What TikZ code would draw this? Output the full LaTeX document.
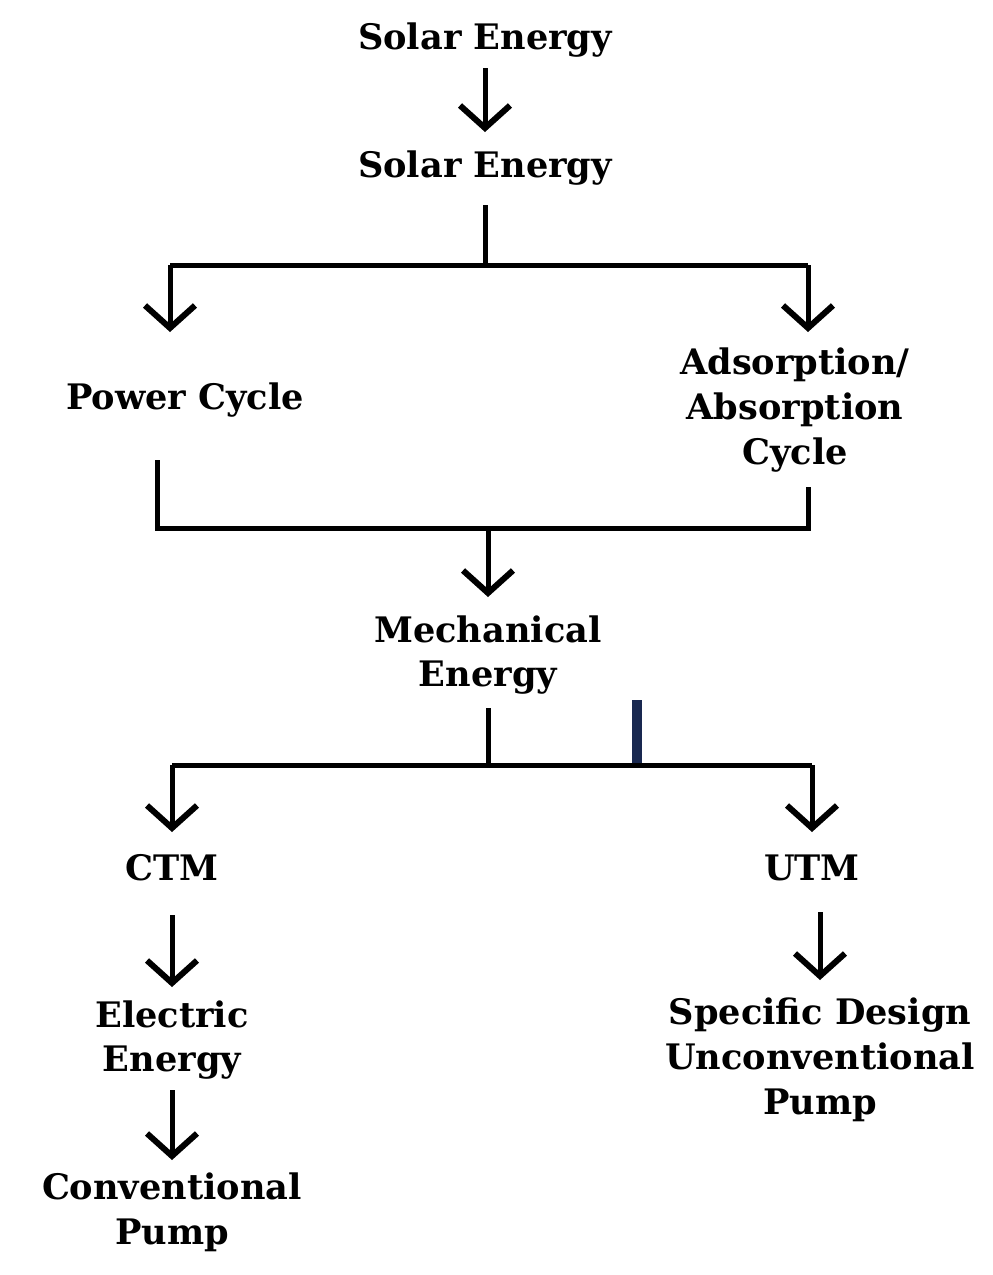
\documentclass[tikz,border=0pt]{standalone}
\usepackage{fontspec}
\setmainfont{DejaVu Serif}
\usetikzlibrary{arrows.meta}
\begin{document}
\begin{tikzpicture}[x=0.02cm,y=-0.02cm,
  lbl/.style={font=\fontsize{20}{25.5}\selectfont\bfseries,align=center,inner sep=0pt},
  ln/.style={line width=0.1cm},
  arr/.style={ln,-{Straight Barb[length=0.45cm,width=1.0cm,line width=0.12cm]}}]
\useasboundingbox (0,0) rectangle (993,1275);
\clip (0,0) rectangle (993,1275);
\node[lbl] (s1) at (485,40) {Solar Energy};
\node[lbl] (s2) at (485,168) {Solar Energy};
\node[lbl] (pc) at (185,400) {Power Cycle};
\node[lbl] (ac) at (795,410) {Adsorption/\\Absorption\\Cycle};
\node[lbl] (me) at (488,655) {Mechanical\\Energy};
\node[lbl] (ctm) at (172,868) {CTM};
\node[lbl] (utm) at (812,868) {UTM};
\node[lbl] (ee) at (172,1040) {Electric\\Energy};
\node[lbl] (cp) at (172,1212) {Conventional\\Pump};
\node[lbl] (sd) at (820,1060) {Specific Design\\Unconventional\\Pump};
\coordinate (a1) at (485,68); \coordinate (a2) at (485,132);
\draw[arr] (a1) -- (a2);
\coordinate (b0) at (485,205); \coordinate (b1) at (485,265);
\coordinate (bl) at (170,265); \coordinate (br) at (808,265);
\coordinate (blx) at (170,332); \coordinate (brx) at (808,332);
\draw[ln] (b0) -- (b1);
\draw[ln] (bl) -- (br);
\draw[arr] (bl) -- (blx);
\draw[arr] (br) -- (brx);
\coordinate (c1) at (157,460); \coordinate (c2) at (157,528);
\coordinate (c3) at (808,487); \coordinate (c4) at (808,528);
\coordinate (c5) at (488,528); \coordinate (c6) at (488,597);
\draw[ln] (c1) -- (c2) -- (c4) -- (c3);
\draw[arr] (c5) -- (c6);
\coordinate (d0) at (488,708); \coordinate (d1) at (488,765);
\coordinate (dl) at (172,765); \coordinate (dr) at (812,765);
\coordinate (dlx) at (172,832); \coordinate (drx) at (812,832);
\draw[ln] (d0) -- (d1);
\draw[ln] (dl) -- (dr);
\draw[arr] (dl) -- (dlx);
\draw[arr] (dr) -- (drx);
\coordinate (bb1) at (637,700); \coordinate (bb2) at (637,763);
\draw[line width=0.2cm,color={rgb,255:red,25;green,40;blue,80}] (bb1) -- (bb2);
\coordinate (e1) at (172,915); \coordinate (e2) at (172,987);
\draw[arr] (e1) -- (e2);
\coordinate (f1) at (172,1090); \coordinate (f2) at (172,1160);
\draw[arr] (f1) -- (f2);
\coordinate (g1) at (820,912); \coordinate (g2) at (820,980);
\draw[arr] (g1) -- (g2);
\end{tikzpicture}
\end{document}
